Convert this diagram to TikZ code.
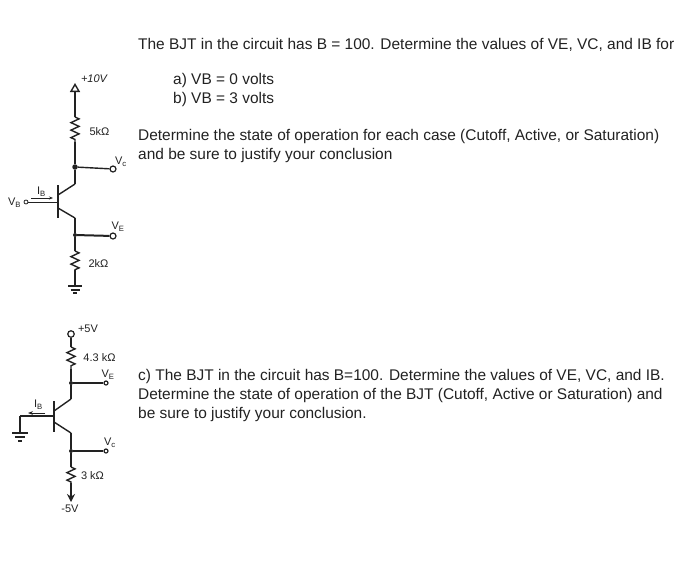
\documentclass[tikz,border=0pt]{standalone}
\usepackage{fontspec}
\setmainfont{Liberation Sans}
\usetikzlibrary{arrows.meta,decorations.pathmorphing}
\definecolor{ink}{HTML}{222222}
\tikzset{
  txt/.style={anchor=base west,inner sep=0pt,text=ink,font=\fontsize{15.45}{17}\selectfont},
  hand/.style={inner sep=0pt,text=ink,font=\fontsize{11}{12}\selectfont},
  wire/.style={draw=ink,line width=1.4pt},
  res/.style={wire,decorate,decoration={zigzag,segment length=7.5pt,amplitude=4pt}},
  term/.style={circle,draw=ink,line width=1.2pt,fill=white,inner sep=0pt,minimum size=6pt},
  dot/.style={circle,fill=ink,inner sep=0pt,minimum size=5.5pt},
  bar/.style={draw=ink,line width=2pt}
}
\begin{document}
\begin{tikzpicture}[x=1pt,y=-1pt]
  \useasboundingbox[fill=white] (0,0) rectangle (700,570);
  \node[txt] (t1) at (138,49) {The BJT in the circuit has B = 100. Determine the values of VE, VC, and IB for};
  \node[txt] (t2) at (173,84) {a) VB = 0 volts};
  \node[txt] (t3) at (173,103) {b) VB = 3 volts};
  \node[txt] (t4) at (138,140) {Determine the state of operation for each case (Cutoff, Active, or Saturation)};
  \node[txt] (t5) at (138,159) {and be sure to justify your conclusion};
  \node[txt] (t6) at (138,380) {c) The BJT in the circuit has B=100. Determine the values of VE, VC, and IB.};
  \node[txt] (t7) at (138,399) {Determine the state of operation of the BJT (Cutoff, Active or Saturation) and};
  \node[txt] (t8) at (138,418) {be sure to justify your conclusion.};
  \draw
    (75,83) coordinate (vcc)
    (75,117) coordinate (r1a)
    (75,142) coordinate (r1b)
    (75,167) node[dot] (jc) {}
    (113,169) node[term] (vc) {}
    (75,184) coordinate (c1)
    (58,195) coordinate (c2)
    (58,185) coordinate (bar1a)
    (58,218) coordinate (bar1b)
    (58,202) coordinate (b1)
    (26,202) node[term,minimum size=4pt,line width=.8pt] (vb) {}
    (58,208) coordinate (e2)
    (75,218) coordinate (e1)
    (75,235) node[dot,minimum size=4pt] (je) {}
    (113,236) node[term] (ve) {}
    (75,251) coordinate (r2a)
    (75,270) coordinate (r2b)
    (75,286) coordinate (gnd1)
    (31,198) coordinate (ib1a)
    (53,198) coordinate (ib1b);
  \begin{scope}
    \draw[wire,-{Triangle[open,length=9pt,width=10pt]}] (r1a) to (vcc);
    \draw[res] (r1a) to (r1b);
    \draw[wire] (r1b) to (jc);
    \draw[wire] (jc) to (c1);
    \draw[wire] (jc) to (vc);
    \draw[wire] (c1) to (c2);
    \draw[bar] (bar1a) to (bar1b);
    \draw[wire,line width=.9pt] (vb) to (b1);
    \draw[wire] (e2) to (e1);
    \draw[wire] (e1) to (je);
    \draw[bar] (je) to (ve);
    \draw[wire] (je) to (r2a);
    \draw[res] (r2a) to (r2b);
    \draw[wire] (r2b) to (gnd1);
    \draw[wire,line width=.9pt,-{Stealth[length=4pt]}] (ib1a) to (ib1b);
    \draw[wire] (68,286) to (82,286);
    \draw[wire] (70.5,290) to (79.5,290);
    \draw[wire] (73,293) to (77,293);
  \end{scope}
  \node[hand,font=\fontsize{11}{12}\itshape\selectfont] (l10v) at (94,79) {+10V};
  \node[hand] (l5k) at (99.5,132) {5kΩ};
  \node[hand] (lvc) at (121,162) {V\textsubscript{c}};
  \node[hand] (lib1) at (41.5,192) {I\textsubscript{B}};
  \node[hand] (lvb) at (14.5,203) {V\textsubscript{B}};
  \node[hand] (lve) at (118,227) {V\textsubscript{E}};
  \node[hand] (l2k) at (98.5,264) {2kΩ};
  \draw
    (71,334) node[term,minimum size=6.5pt] (vp) {}
    (71,347) coordinate (r3a)
    (71,369) coordinate (r3b)
    (71,383) node[dot,minimum size=4pt] (je2) {}
    (106,383) node[term,minimum size=4pt] (ve2) {}
    (71,399) coordinate (e3)
    (54,411) coordinate (e4)
    (54,401) coordinate (bar2a)
    (54,432) coordinate (bar2b)
    (54,416) coordinate (b2)
    (20,416) coordinate (gb)
    (20,433) coordinate (gnd2)
    (54,422) coordinate (c4)
    (71,433) coordinate (c3)
    (71,451) node[dot,minimum size=4pt] (jc2) {}
    (106,451) node[term,minimum size=4pt] (vc2) {}
    (71,467) coordinate (r4a)
    (71,483) coordinate (r4b)
    (71,502) coordinate (vm)
    (45,413) coordinate (ib2a)
    (28,413) coordinate (ib2b);
  \begin{scope}
    \draw[wire] (vp) to (r3a);
    \draw[res] (r3a) to (r3b);
    \draw[wire] (r3b) to (je2);
    \draw[wire] (je2) to (e3);
    \draw[wire] (je2) to (ve2);
    \draw[wire] (e3) to (e4);
    \draw[bar] (bar2a) to (bar2b);
    \draw[wire] (b2) to (gb);
    \draw[wire] (gb) to (gnd2);
    \draw[wire] (c4) to (c3);
    \draw[wire] (c3) to (jc2);
    \draw[bar] (jc2) to (vc2);
    \draw[wire] (jc2) to (r4a);
    \draw[res] (r4a) to (r4b);
    \draw[wire,-{Stealth[length=8pt,width=8pt]}] (r4b) to (vm);
    \draw[wire,line width=.9pt,-{Stealth[length=5pt]}] (ib2a) to (ib2b);
    \draw[wire] (12,433) to (28,433);
    \draw[wire] (15,437) to (25,437);
    \draw[wire] (18,441) to (22,441);
  \end{scope}
  \node[hand] (l5v) at (88,329) {+5V};
  \node[hand] (l43k) at (99.5,358) {4.3 kΩ};
  \node[hand] (lve2) at (108,375) {V\textsubscript{E}};
  \node[hand] (lib2) at (38.5,405) {I\textsubscript{B}};
  \node[hand] (lvc2) at (110,443) {V\textsubscript{c}};
  \node[hand] (l3k) at (92.5,476) {3 kΩ};
  \node[hand] (lm5v) at (70,509) {-5V};
\end{tikzpicture}
\end{document}
